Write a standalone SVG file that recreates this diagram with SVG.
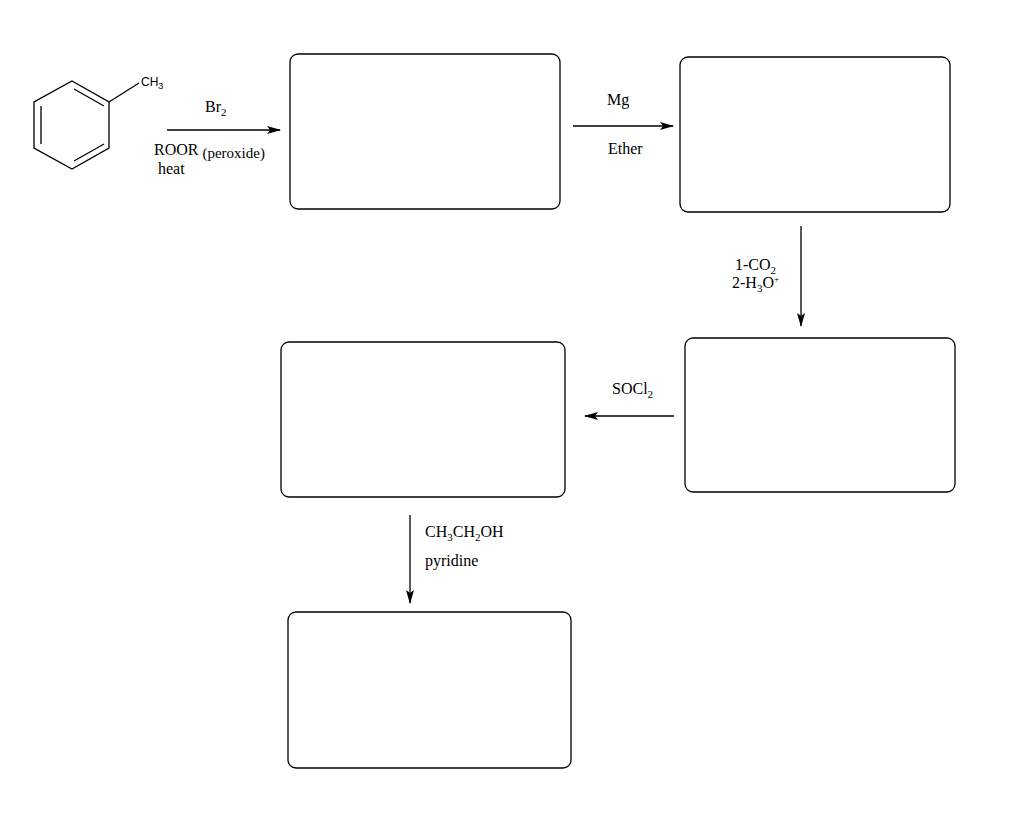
<svg xmlns="http://www.w3.org/2000/svg" width="1024" height="817" viewBox="0 0 1024 817">
<style>
.b{fill:none;stroke:#000;stroke-width:1.3}
.l{stroke:#000;stroke-width:1.3;fill:none}
text{font-family:"Liberation Serif",serif;font-size:16px;fill:#000}
.s{font-family:"Liberation Sans",sans-serif;font-size:12px}
</style>
<defs><marker id="a" markerWidth="14" markerHeight="8" refX="13" refY="4" orient="auto" markerUnits="userSpaceOnUse"><path d="M0,0 L14,4 L0,8 L3,4 Z" fill="#000"/></marker></defs>
<rect width="1024" height="817" fill="#fff"/>
<g id="toluene">
<path class="l" d="M72,81 L109,102 L109,148 L72,169 L34,148 L34,102 Z"/>
<line class="l" x1="74" y1="89" x2="104" y2="106"/>
<line class="l" x1="104" y1="144" x2="74" y2="161"/>
<line class="l" x1="41" y1="106" x2="41" y2="144"/>
<line class="l" x1="109" y1="102" x2="139" y2="83"/>
<text class="s" x="141" y="86">CH<tspan font-size="9" dy="3">3</tspan></text>
</g>
<g id="box1"><rect class="b" x="290" y="54" width="270" height="155" rx="8"/></g>
<g id="box2"><rect class="b" x="680" y="57" width="270" height="155" rx="8"/></g>
<g id="box3"><rect class="b" x="685" y="338" width="270" height="154" rx="8"/></g>
<g id="box4"><rect class="b" x="281" y="342" width="284" height="155" rx="8"/></g>
<g id="box5"><rect class="b" x="288" y="612" width="283" height="156" rx="8"/></g>
<g id="connectors">
<line class="l" x1="167" y1="130" x2="280" y2="130" marker-end="url(#a)"/>
<line class="l" x1="573" y1="126" x2="673" y2="126" marker-end="url(#a)"/>
<line class="l" x1="801" y1="226" x2="801" y2="326" marker-end="url(#a)"/>
<line class="l" x1="674" y1="416" x2="585" y2="416" marker-end="url(#a)"/>
<line class="l" x1="410" y1="515" x2="410" y2="603" marker-end="url(#a)"/>
</g>
<g id="labels">
<text x="205" y="112">Br<tspan font-size="11" dy="4">2</tspan></text>
<text x="154" y="155">ROOR <tspan font-size="15" dy="3">(peroxide)</tspan></text>
<text x="158" y="174">heat</text>
<text x="607" y="105">Mg</text>
<text x="608" y="154">Ether</text>
<text x="735" y="270">1-CO<tspan font-size="11" dy="4">2</tspan></text>
<text x="732" y="288">2-H<tspan font-size="11" dy="4">3</tspan><tspan dy="-4">O</tspan><tspan font-size="9" dy="-6">+</tspan></text>
<text x="612" y="394">SOCl<tspan font-size="11" dy="4">2</tspan></text>
<text x="425" y="537">CH<tspan font-size="11" dy="4">3</tspan><tspan dy="-4">CH</tspan><tspan font-size="11" dy="4">2</tspan><tspan dy="-4">OH</tspan></text>
<text x="425" y="566">pyridine</text>
</g>
</svg>
